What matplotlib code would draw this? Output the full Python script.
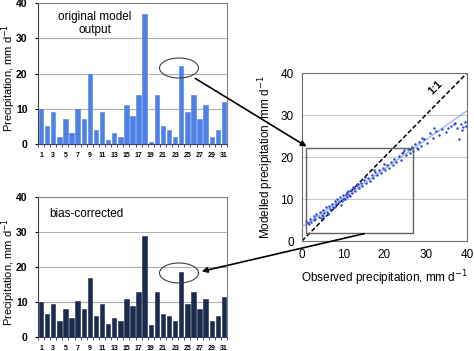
import matplotlib
matplotlib.use('Agg')
import matplotlib.pyplot as plt
import numpy as np
from matplotlib.patches import Ellipse, FancyArrowPatch, Rectangle

plt.rcParams['font.family'] = ['Liberation Sans', 'DejaVu Sans']

days = list(range(1, 32))
original = [10, 5, 9, 2, 7, 3, 10, 7, 20, 4, 9, 1, 3, 2, 11, 8, 14, 37, 0.5, 14,
            5, 4, 2, 22, 9, 14, 7, 11, 2, 4, 12]
corrected = [10, 6.5, 9.5, 4.5, 8, 5.3, 10.2, 8, 17, 6, 9.5, 3.8, 5.3, 4.5, 10.8, 8.8,
             13, 29, 3.4, 13, 6.6, 6, 4.5, 18.5, 9.5, 13, 8, 10.8, 4.5, 6, 11.5]

observed = [1.0, 1.5, 2.0, 2.3, 2.8, 3.2, 3.5, 4.0, 4.3, 4.8, 5.0, 5.4, 5.8, 6.1, 6.5,
            6.8, 7.2, 7.5, 7.9, 8.2, 8.6, 9.0, 9.3, 9.7, 10.0, 10.3, 10.6, 10.9, 11.2,
            11.5, 11.8, 12.1, 12.5, 12.9, 13.3, 13.8, 14.2, 14.6, 15.0, 15.5, 16.0,
            16.4, 16.9, 17.3, 17.8, 18.2, 18.7, 19.1, 19.6, 20.0, 20.5, 21.0, 21.5,
            22.0, 22.4, 22.9, 23.4, 23.9, 24.3, 24.8, 25.2, 25.7, 26.1, 26.6, 27.0,
            27.5, 27.9, 28.4, 28.9, 29.5, 30.2, 31.0, 31.8, 32.5, 33.3, 34.0, 34.8,
            35.5, 36.2, 37.0, 37.5, 38.0, 38.5, 39.0, 39.6,
            1.8, 3.0, 4.5, 5.2, 6.3, 7.0, 8.0, 9.5, 10.5, 11.0, 11.7, 12.3, 13.5,
            15.2, 17.5, 19.8, 24.5, 26.3, 28.2, 29.0, 32.0, 36.8, 38.8, 39.8]
modelled = [4.8, 4.2, 5.3, 4.6, 5.9, 5.2, 6.4, 5.8, 6.9, 6.2, 7.5, 6.6, 8.0, 7.0, 8.4,
            7.6, 8.9, 8.1, 9.5, 8.7, 9.9, 9.2, 10.4, 9.6, 10.9, 10.1, 11.3, 10.5, 11.8,
            11.0, 12.2, 11.4, 12.6, 12.0, 13.3, 12.6, 13.9, 13.1, 14.6, 13.8, 15.1,
            14.4, 15.8, 15.0, 16.4, 15.6, 17.0, 16.2, 17.5, 16.9, 18.2, 17.5, 18.8,
            18.1, 19.5, 18.8, 20.2, 19.4, 20.9, 21.6, 20.4, 21.9, 20.9, 22.4, 21.5,
            23.0, 22.2, 23.6, 22.7, 24.2, 23.4, 25.6, 24.5, 26.3, 25.2, 26.6, 26.0,
            26.9, 27.3, 28.1, 26.8, 24.3, 27.9, 27.2, 28.3,
            4.0, 4.9, 5.5, 6.0, 6.5, 7.3, 8.0, 8.6, 9.9, 11.6, 10.8, 12.9, 13.6,
            15.2, 16.8, 18.4, 21.3, 22.0, 22.0, 24.6, 27.0, 27.8, 26.5, 27.5]
fit_x = [0, 40]
fit_y = [3.3, 31.0]

W, H = 474, 351
fig = plt.figure(figsize=(W / 100, H / 100), dpi=100)

def px(x, y):
    return x / W, 1 - y / H

def bar_panel(rect, vals, color):
    ax = fig.add_axes(rect)
    ax.bar(days, vals, width=0.72, color=color, edgecolor=color, linewidth=0.4, zorder=3)
    ax.set_xlim(0.5, 31.5)
    ax.set_ylim(0, 40)
    ax.set_yticks([0, 10, 20, 30, 40])
    ax.yaxis.grid(True, color='#b0b0b0', linewidth=0.8, zorder=0)
    ax.set_xticks(days[::2])
    ax.set_xticks(np.arange(0.5, 32, 1), minor=True)
    ax.tick_params(axis='x', which='major', length=0, labelsize=5, pad=6)
    ax.tick_params(axis='x', which='minor', length=2.5, width=0.6, color='#303060')
    ax.tick_params(axis='y', length=2.5, labelsize=7.5, pad=5)
    for t in ax.get_yticklabels() + ax.get_xticklabels():
        t.set_fontweight('bold')
    for s in ax.spines.values():
        s.set_color('#808080')
    ax.spines['bottom'].set_color('#404060')
    ax.spines['left'].set_color('#404040')
    ax.set_ylabel('Precipitation, mm d$^{-1}$', fontsize=8)
    ax.yaxis.set_label_coords(-0.108, 0.465)
    return ax

ax1 = bar_panel([38 / W, 1 - 144 / H, 189 / W, 141 / H], original, '#4f80e6')
ax1.text(0.3, 0.94, 'original model\noutput', transform=ax1.transAxes, ha='center',
         va='top', fontsize=8.5, linespacing=1.1)

ax2 = bar_panel([38 / W, 1 - 337 / H, 189 / W, 140 / H], corrected, '#1c2a4e')
ax2.text(0.06, 0.88, 'bias-corrected', transform=ax2.transAxes, ha='left',
         va='center', fontsize=8.5)

ax3 = fig.add_axes([302 / W, 1 - 241 / H, 165 / W, 168 / H])
ax3.set_xlim(0, 40)
ax3.set_ylim(0, 40)
ax3.set_xticks([0, 10, 20, 30, 40])
ax3.set_yticks([0, 10, 20, 30, 40])
ax3.yaxis.grid(True, color='#c8c8c8', linewidth=0.8, zorder=0)
ax3.tick_params(length=0, labelsize=8.5, pad=6)
for s in ax3.spines.values():
    s.set_color('#707070')
ax3.plot([0, 40], [0, 40], '--', color='black', linewidth=1.1, dashes=(3, 1.5), zorder=2)
ax3.plot(fit_x, fit_y, color='#9ab6ec', linewidth=1.0, zorder=3)
ax3.scatter(observed, modelled, s=0.6, color='#2a48d8', zorder=4)
ax3.add_patch(Rectangle((0.9, 1.8), 25.9, 20.4, fill=False, edgecolor='#606060',
                        linewidth=1.0, zorder=5))
ax3.text(32.3, 36.6, '1:1', rotation=45, fontsize=7.5, fontweight='bold',
         ha='center', va='center')
ax3.set_xlabel('Observed precipitation, mm d$^{-1}$', fontsize=8.5, labelpad=5)
ax3.set_ylabel('Modelled precipitation, mm d$^{-1}$', fontsize=8.5, labelpad=3)

for cx, cy in [(179, 68), (179, 273)]:
    fig.add_artist(Ellipse(px(cx, cy), 39 / W, 20 / H, transform=fig.transFigure,
                           fill=False, edgecolor='#404040', linewidth=0.8))

arrows = [((193, 77), (309, 148)), ((367, 233), (199, 272))]
for (x0, y0), (x1, y1) in arrows:
    fig.add_artist(FancyArrowPatch(px(x0, y0), px(x1, y1), transform=fig.transFigure,
                                   arrowstyle='-|>', mutation_scale=8,
                                   color='black', linewidth=1.2))

fig.savefig('out.png', dpi=100)
